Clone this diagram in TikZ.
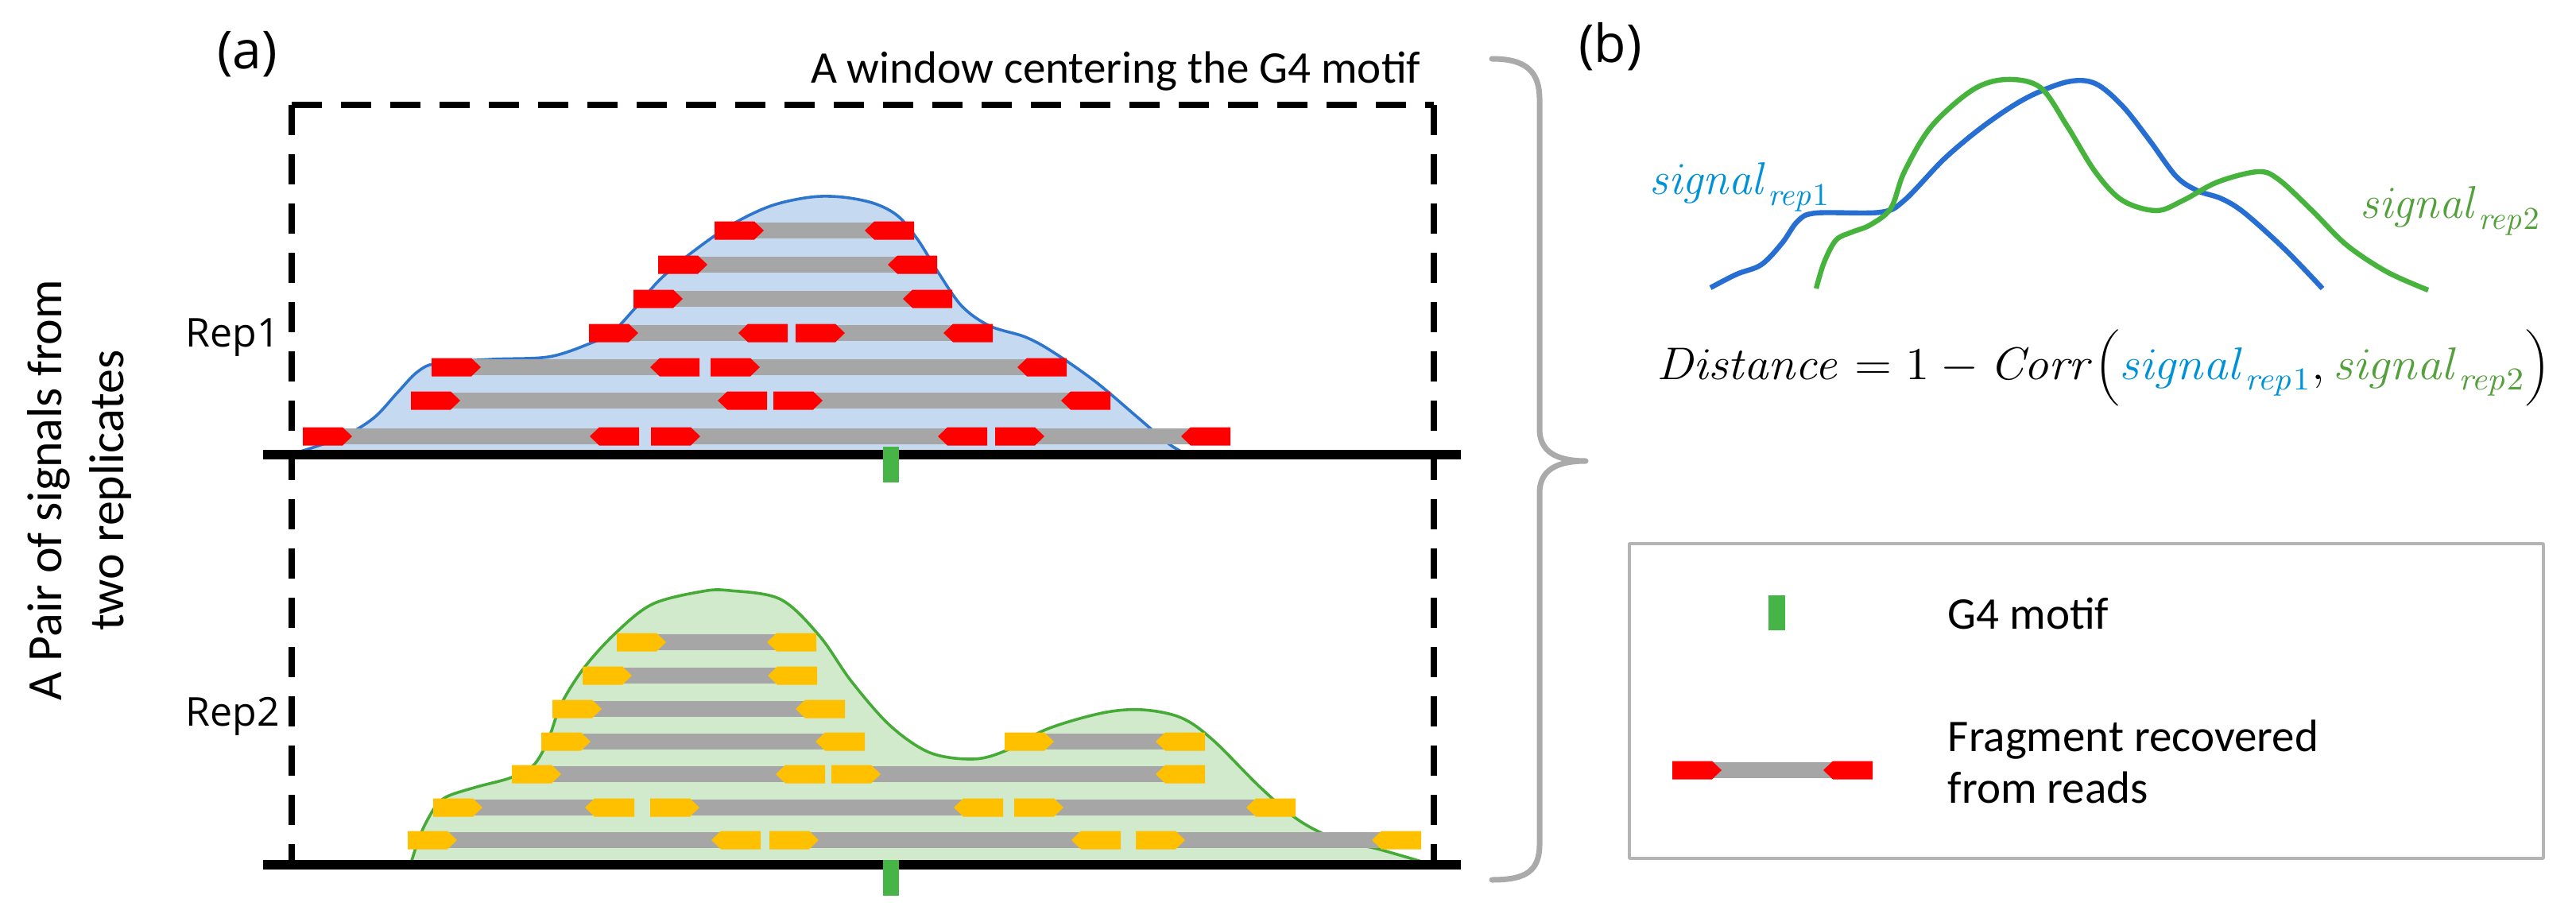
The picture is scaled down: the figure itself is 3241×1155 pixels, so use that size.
\documentclass[tikz,border=0pt]{standalone}
\usepackage[no-math]{fontspec}
\setmainfont{Carlito}
\newfontfamily\osans{Open Sans}
\usepackage{graphicx}
\definecolor{rfill}{RGB}{197,217,241}
\definecolor{rline}{RGB}{45,117,205}
\definecolor{gfill}{RGB}{208,234,203}
\definecolor{gline}{RGB}{70,170,55}
\definecolor{capred}{RGB}{255,0,0}
\definecolor{caporange}{RGB}{255,192,0}
\definecolor{bargray}{RGB}{166,166,166}
\definecolor{motif}{RGB}{70,180,70}
\definecolor{bracegray}{RGB}{170,170,170}
\definecolor{boxgray}{RGB}{180,180,180}
\definecolor{cblue}{RGB}{38,110,210}
\definecolor{cgreen}{RGB}{70,180,60}
\definecolor{sigblue}{RGB}{0,146,214}
\definecolor{siggreen}{RGB}{84,160,60}
\newcommand\fragm[4]{%
  \fill[bargray] (#2,#1-10) rectangle (#3,#1+10);
  \fill[#4] (#2,#1-11.5) -- (#2+50,#1-11.5) -- (#2+62,#1) -- (#2+50,#1+11.5) -- (#2,#1+11.5) -- cycle;
  \fill[#4] (#3,#1-11.5) -- (#3-50,#1-11.5) -- (#3-62,#1) -- (#3-50,#1+11.5) -- (#3,#1+11.5) -- cycle;
}
\begin{document}
\begin{tikzpicture}[x=0.25pt,y=-0.25pt,line join=round,
  winline/.style={line width=2.1pt,dash pattern=on 9.5pt off 6pt},
  axisline/.style={line width=3pt,black},
  tick/.style={fill=motif},
  lbl/.style={inner sep=0pt,font=\osans\fontsize{16.5}{20}\selectfont},
  replbl/.style={inner sep=0pt,font=\osans\fontsize{12.5}{15}\selectfont},
  cal/.style={inner sep=0pt,font=\fontsize{14.25}{17}\selectfont},
  vlbl/.style={inner sep=0pt,rotate=90,font=\fontsize{15.5}{19}\selectfont},
  mathlbl/.style={inner sep=0pt,anchor=base west,font=\fontsize{14.3}{17}\selectfont}]
\useasboundingbox[fill=white] (0,0) rectangle (3241,1155);

% ---------- Rep1 signal ----------
\filldraw[fill=rfill,draw=rline,line width=0.9pt] plot[smooth,tension=0.55] coordinates {
 (372,570) (430,550) (470,526) (500,494) (525,468) (550,457) (620,452) (690,449) (740,433)
 (770,418) (797,390) (830,352) (870,318) (920,283) (970,259) (1020,248) (1060,248)
 (1100,256) (1130,272) (1155,302) (1180,342) (1210,385) (1245,410) (1290,424) (1325,443)
 (1378,480) (1430,524) (1470,558) (1490,570)} -- cycle;
\fragm{290}{899}{1150}{capred}
\fragm{333}{828}{1179}{capred}
\fragm{376}{797}{1198}{capred}
\fragm{419}{741}{991}{capred}
\fragm{419}{1001}{1249}{capred}
\fragm{462}{543}{880}{capred}
\fragm{462}{894}{1342}{capred}
\fragm{504}{517}{965}{capred}
\fragm{504}{973}{1397}{capred}
\fragm{549}{381}{804}{capred}
\fragm{549}{819}{1242}{capred}
\fragm{549}{1252}{1548}{capred}

% ---------- Rep2 signal ----------
\filldraw[fill=gfill,draw=gline,line width=0.9pt] plot[smooth,tension=0.55] coordinates {
 (517,1086) (527,1055) (537,1033) (550,1012) (565,1001) (600,990) (644,978) (672,962)
 (690,930) (706,886) (735,840) (775,796) (821,760) (884,744) (918,743) (982,754)
 (1031,800) (1071,857) (1120,913) (1170,947) (1224,955) (1264,945) (1318,917) (1387,897)
 (1437,893) (1486,903) (1526,931) (1585,990) (1634,1032) (1684,1057) (1733,1068) (1795,1086)} -- cycle;
\fragm{808}{776}{1027}{caporange}
\fragm{850}{733}{1028}{caporange}
\fragm{892}{695}{1063}{caporange}
\fragm{933}{681}{1088}{caporange}
\fragm{933}{1264}{1516}{caporange}
\fragm{974}{644}{1038}{caporange}
\fragm{974}{1046}{1516}{caporange}
\fragm{1016}{545}{798}{caporange}
\fragm{1016}{818}{1262}{caporange}
\fragm{1016}{1276}{1630}{caporange}
\fragm{1057}{513}{957}{caporange}
\fragm{1057}{968}{1410}{caporange}
\fragm{1057}{1429}{1788}{caporange}

% ---------- window ----------
\draw[winline] (367,132) -- (367,1088);
\draw[winline] (367,132) -- (1804,132);
\draw[winline] (1804,132) -- (1804,1088);

% ---------- axes and motif ticks ----------
\draw[axisline] (331,572) -- (1838,572);
\draw[axisline] (331,1088) -- (1838,1088);
\fill[tick] (1111,562) rectangle (1131,607);
\fill[tick] (1111,1082) rectangle (1131,1127);

% ---------- labels (a) ----------
\node[lbl] (la) at (311,68) {(a)};
\node[cal,anchor=base east] (win) at (1788,105) {A window centering the G4 motif};
\node[replbl,anchor=base] (r1) at (293,436) {Rep1};
\node[replbl,anchor=base] (r2) at (293,913) {Rep2};
\node[vlbl,anchor=base] (v1) at (78,617) {A Pair of signals from};
\node[vlbl,anchor=base] (v2) at (155,617) {two replicates};

% ---------- brace ----------
\draw[bracegray,line width=1.75pt,line cap=round]
 (1877,74) .. controls (1920,74) and (1937,90) .. (1937,125)
 -- (1937,540) .. controls (1937,568) and (1958,580) .. (1995,580)
 .. controls (1958,580) and (1937,592) .. (1937,620)
 -- (1937,1062) .. controls (1937,1096) and (1920,1107) .. (1877,1107);

% ---------- panel (b) ----------
\node[lbl] (lb) at (2026,59) {(b)};
\draw[cblue,line width=1.6pt] plot[smooth,tension=0.55] coordinates {
 (2152,362) (2185,345) (2216,333) (2242,306) (2262,278) (2285,268) (2366,267) (2396,252)
 (2447,199) (2499,156) (2550,123) (2601,103) (2636,105) (2670,133) (2704,176) (2738,222)
 (2765,240) (2795,250) (2824,268) (2875,314) (2922,363)};
\draw[cgreen,line width=1.6pt] plot[smooth,tension=0.55] coordinates {
 (2285,363) (2295,330) (2310,302) (2330,292) (2353,283) (2379,262) (2396,216) (2430,159)
 (2482,113) (2524,100) (2567,110) (2601,159) (2636,216) (2670,252) (2713,265) (2747,252)
 (2790,229) (2841,216) (2867,226) (2909,265) (2952,308) (3003,342) (3055,365)};
\node[mathlbl,text=sigblue] (s1) at (2075,245)
 {\resizebox{56.75pt}{\height}{$\mathit{signal}_{\mathit{rep}1}$}};
\node[mathlbl,text=siggreen] (s2) at (2969,275)
 {\resizebox{56.75pt}{\height}{$\mathit{signal}_{\mathit{rep}2}$}};
\node[mathlbl] (eq) at (2084,477)
 {\resizebox{281pt}{\height}{$\mathit{Distance}=1-\mathit{Corr}\biggl(\textcolor{sigblue}{\mathit{signal}_{\mathit{rep}1}},\textcolor{siggreen}{\mathit{signal}_{\mathit{rep}2}}\biggr)$}};

% ---------- legend ----------
\draw[boxgray,line width=0.9pt] (2050,684) rectangle (3200,1080);
\fill[tick] (2225,749) rectangle (2246,793);
\node[cal,anchor=base west] (lg1) at (2450,791) {G4 motif};
\fragm{969}{2104}{2356}{capred}
\node[cal,anchor=base west] (lg2) at (2450,945) {Fragment recovered};
\node[cal,anchor=base west] (lg3) at (2450,1010) {from reads};
\end{tikzpicture}
\end{document}
